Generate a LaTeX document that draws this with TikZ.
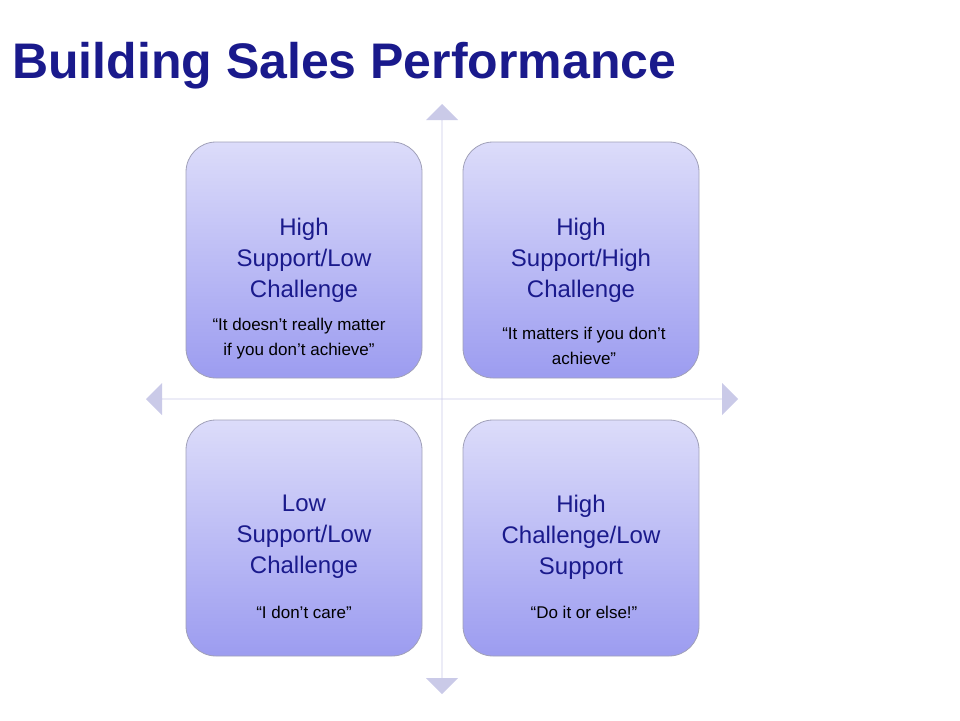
\documentclass[tikz,border=0pt]{standalone}
\usepackage{fontspec}
\setmainfont{Liberation Sans}
\usetikzlibrary{shapes.arrows}
\definecolor{ttl}{HTML}{1A1A8C}
\definecolor{axisc}{HTML}{CACAE8}
\definecolor{btop}{HTML}{DCDCFA}
\definecolor{bbot}{HTML}{9C9CF0}
\definecolor{bdr}{HTML}{A0A0B8}
\tikzset{
  quad/.style={rounded corners=30pt, top color=btop, bottom color=bbot, draw=bdr, line width=0.8pt, minimum width=236pt, minimum height=236pt},
  head/.style={text=ttl, font=\fontsize{24}{31}\selectfont, align=center},
  quote/.style={text=black, font=\fontsize{17}{25}\selectfont, align=center},
  axisarrow/.style={double arrow, fill=axisc, draw=none, minimum width=32pt, inner sep=0pt, double arrow head extend=8pt},
}
\begin{document}
\begin{tikzpicture}[x=1pt,y=-1pt]
\useasboundingbox (0,0) rectangle (960,720);
\node[anchor=base west, text=ttl, font=\fontsize{50}{60}\selectfont\bfseries, inner sep=0pt] (title) at (12,78) {Building Sales Performance};
\node[axisarrow, minimum height=590pt, rotate=90] (vax) at (442,399) {};
\node[axisarrow, minimum height=592pt] (hax) at (442,399) {};
\node[quad] (q1) at (304,260) {};
\node[quad] (q2) at (581,260) {};
\node[quad] (q3) at (304,538) {};
\node[quad] (q4) at (581,538) {};
\node[head] (t1) at (304,260) {High\\Support/Low\\Challenge};
\node[quote] (c1) at (299,339) {“It doesn’t really matter\\if you don’t achieve”};
\node[head] (t2) at (581,260) {High\\Support/High\\Challenge};
\node[quote] (c2) at (584,346) {“It matters if you don’t\\achieve”};
\node[head] (t3) at (304,537) {Low\\Support/Low\\Challenge};
\node[quote] (c3) at (304,612) {“I don’t care”};
\node[head] (t4) at (581,537) {High\\Challenge/Low\\Support};
\node[quote] (c4) at (584,612) {“Do it or else!”};
\end{tikzpicture}
\end{document}
